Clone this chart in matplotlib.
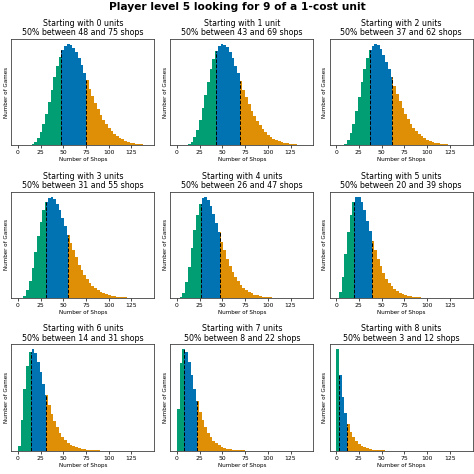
import matplotlib
matplotlib.use("Agg")
import matplotlib.pyplot as plt

# Level 5 shop odds, hunting for 9 copies of a 1-cost unit
start_units = [0, 1, 2, 3, 4, 5, 6, 7, 8]
q_low = [48, 43, 37, 31, 26, 20, 14, 8, 3]
q_high = [75, 69, 62, 55, 47, 39, 31, 22, 12]

BIN = 3  # shops per bar, first bar starts at 0

# relative number of games per bar (peak ~100)
games_0 = [0, 0, 0, 0.1, 0.4, 1.3, 3.4, 7.2, 13, 21, 31, 43, 55, 67, 78, 87,
           94, 98, 100, 99, 96, 92, 86, 79, 71, 64, 56, 49, 42, 36, 30, 25,
           21, 17, 14, 11.4, 9.2, 7.3, 5.8, 4.6, 3.6, 2.8, 2.2, 1.7, 1.3, 1.0,
           0.8, 0.6]
games_1 = [0, 0, 0, 0.3, 1.3, 3.7, 8.3, 15, 25, 37, 50, 62, 75, 85, 93, 98,
           100, 99, 97, 92, 86, 78, 71, 63, 55, 48, 41, 34, 29, 24, 20, 16,
           13, 10.6, 8.4, 6.7, 5.3, 4.2, 3.3, 2.5, 2.0, 1.5, 1.2, 0.9, 0.7,
           0.5, 0.4]
games_2 = [0, 0, 0.3, 1.7, 5.3, 12, 21.5, 34, 48, 62, 75, 86, 94, 98, 100, 99,
           95, 89, 82, 75, 67, 59, 51, 44, 37, 31, 26, 21, 17, 14, 11.3, 9.0,
           7.2, 5.7, 4.5, 3.5, 2.7, 2.1, 1.6, 1.25, 1.0, 0.7, 0.6, 0.4, 0.3,
           0.25, 0.2]
games_3 = [0, 0.3, 2.2, 7.6, 17, 30, 45.5, 61, 75, 87, 95, 99, 100, 98, 93,
           86.5, 79, 71, 62, 54, 47, 40, 33, 28, 23, 19, 15, 12, 9.8, 7.8, 6.2,
           4.9, 3.8, 3.0, 2.3, 1.8, 1.4, 1.1, 0.8, 0.6, 0.5]
games_4 = [0, 0.9, 5.4, 15.6, 31, 49, 67, 82, 93, 99, 100, 97, 91, 83, 74, 65,
           55, 47, 39, 32, 26, 21, 16.4, 12.9, 10, 7.8, 6.0, 4.6, 3.5, 2.6,
           2.0, 1.5, 1.1, 0.8, 0.6, 0.45, 0.33]
games_5 = [0.2, 5.9, 21, 43, 64.5, 82, 94, 99.6, 99, 94, 86, 76, 66, 56, 47,
           38, 31, 25, 19, 15, 11.7, 9.0, 6.9, 5.2, 3.9, 2.9, 2.2, 1.6, 1.2,
           0.9, 0.65, 0.5, 0.35]
games_6 = [4.3, 30, 61, 84, 97, 100, 96, 88, 77.5, 66, 55, 45, 36.5, 29, 23,
           17.7, 13.6, 10.4, 7.9, 6.0, 4.5, 3.3, 2.5, 1.8, 1.4, 1.0, 0.74,
           0.54, 0.39, 0.28, 0.2, 0.15, 0.1]
games_7 = [41, 86, 99.6, 97, 87, 74, 61, 49, 38, 30, 23, 17.4, 13.2, 9.9, 7.4,
           5.5, 4.1, 3.0, 2.2, 1.6, 1.2, 0.9, 0.62, 0.45, 0.33, 0.24, 0.17,
           0.12]
games_8 = [100, 75, 53, 37.6, 26.6, 18.8, 13.3, 9.4, 6.7, 4.7, 3.3, 2.4, 1.7,
           1.2, 0.84, 0.59, 0.42, 0.3, 0.21, 0.15, 0.11]
games = [games_0, games_1, games_2, games_3, games_4,
         games_5, games_6, games_7, games_8]

shop_ticks = [0, 25, 50, 75, 100, 125]

GREEN, BLUE, ORANGE = "#029e73", "#0173b2", "#de8f05"


def segment(vals, lo, hi):
    # cut the bars down to the shop range [lo, hi)
    edges, heights = [lo], []
    for i, v in enumerate(vals):
        a, b = i * BIN, (i + 1) * BIN
        if b <= lo or a >= hi:
            continue
        heights.append(v)
        edges.append(min(b, hi))
    return edges, heights


fig, axes = plt.subplots(3, 3, figsize=(4.74, 4.74), dpi=100)
fig.subplots_adjust(left=0.024, right=0.997, bottom=0.049, top=0.918,
                    wspace=0.113, hspace=0.434)

for ax, n, lo, hi, vals in zip(axes.flat, start_units, q_low, q_high, games):
    end = len(vals) * BIN
    for (a, b), col in [((0, lo), GREEN), ((lo, hi), BLUE), ((hi, end), ORANGE)]:
        edges, heights = segment(vals, a, b)
        ax.stairs(heights, edges, fill=True, color=col, linewidth=0)

    for q in (lo, hi):
        ax.vlines(q, 0, vals[q // BIN], colors="k", linestyles="--",
                  linewidth=0.7)

    ax.set_xlim(-7.15, 150.15)
    ax.set_ylim(0, max(vals) * 1.05)
    ax.set_xticks(shop_ticks)
    ax.set_yticks([])
    ax.tick_params(axis="x", labelsize=4.3, length=2, width=0.5, pad=1.5)
    for sp in ax.spines.values():
        sp.set_linewidth(0.6)
        sp.set_color("0.25")

    unit_word = "unit" if n == 1 else "units"
    ax.set_title(f"Starting with {n} {unit_word}\n50% between {lo} and {hi} shops",
                 fontsize=5.7, pad=2.5, linespacing=1.05)
    ax.set_xlabel("Number of Shops", fontsize=4.1, labelpad=1.5)
    ax.set_ylabel("Number of Games", fontsize=4.1, labelpad=2)

fig.suptitle("Player level 5 looking for 9 of a 1-cost unit",
             fontsize=7.7, fontweight="bold", y=0.995)

fig.savefig("out.png", dpi=100)
